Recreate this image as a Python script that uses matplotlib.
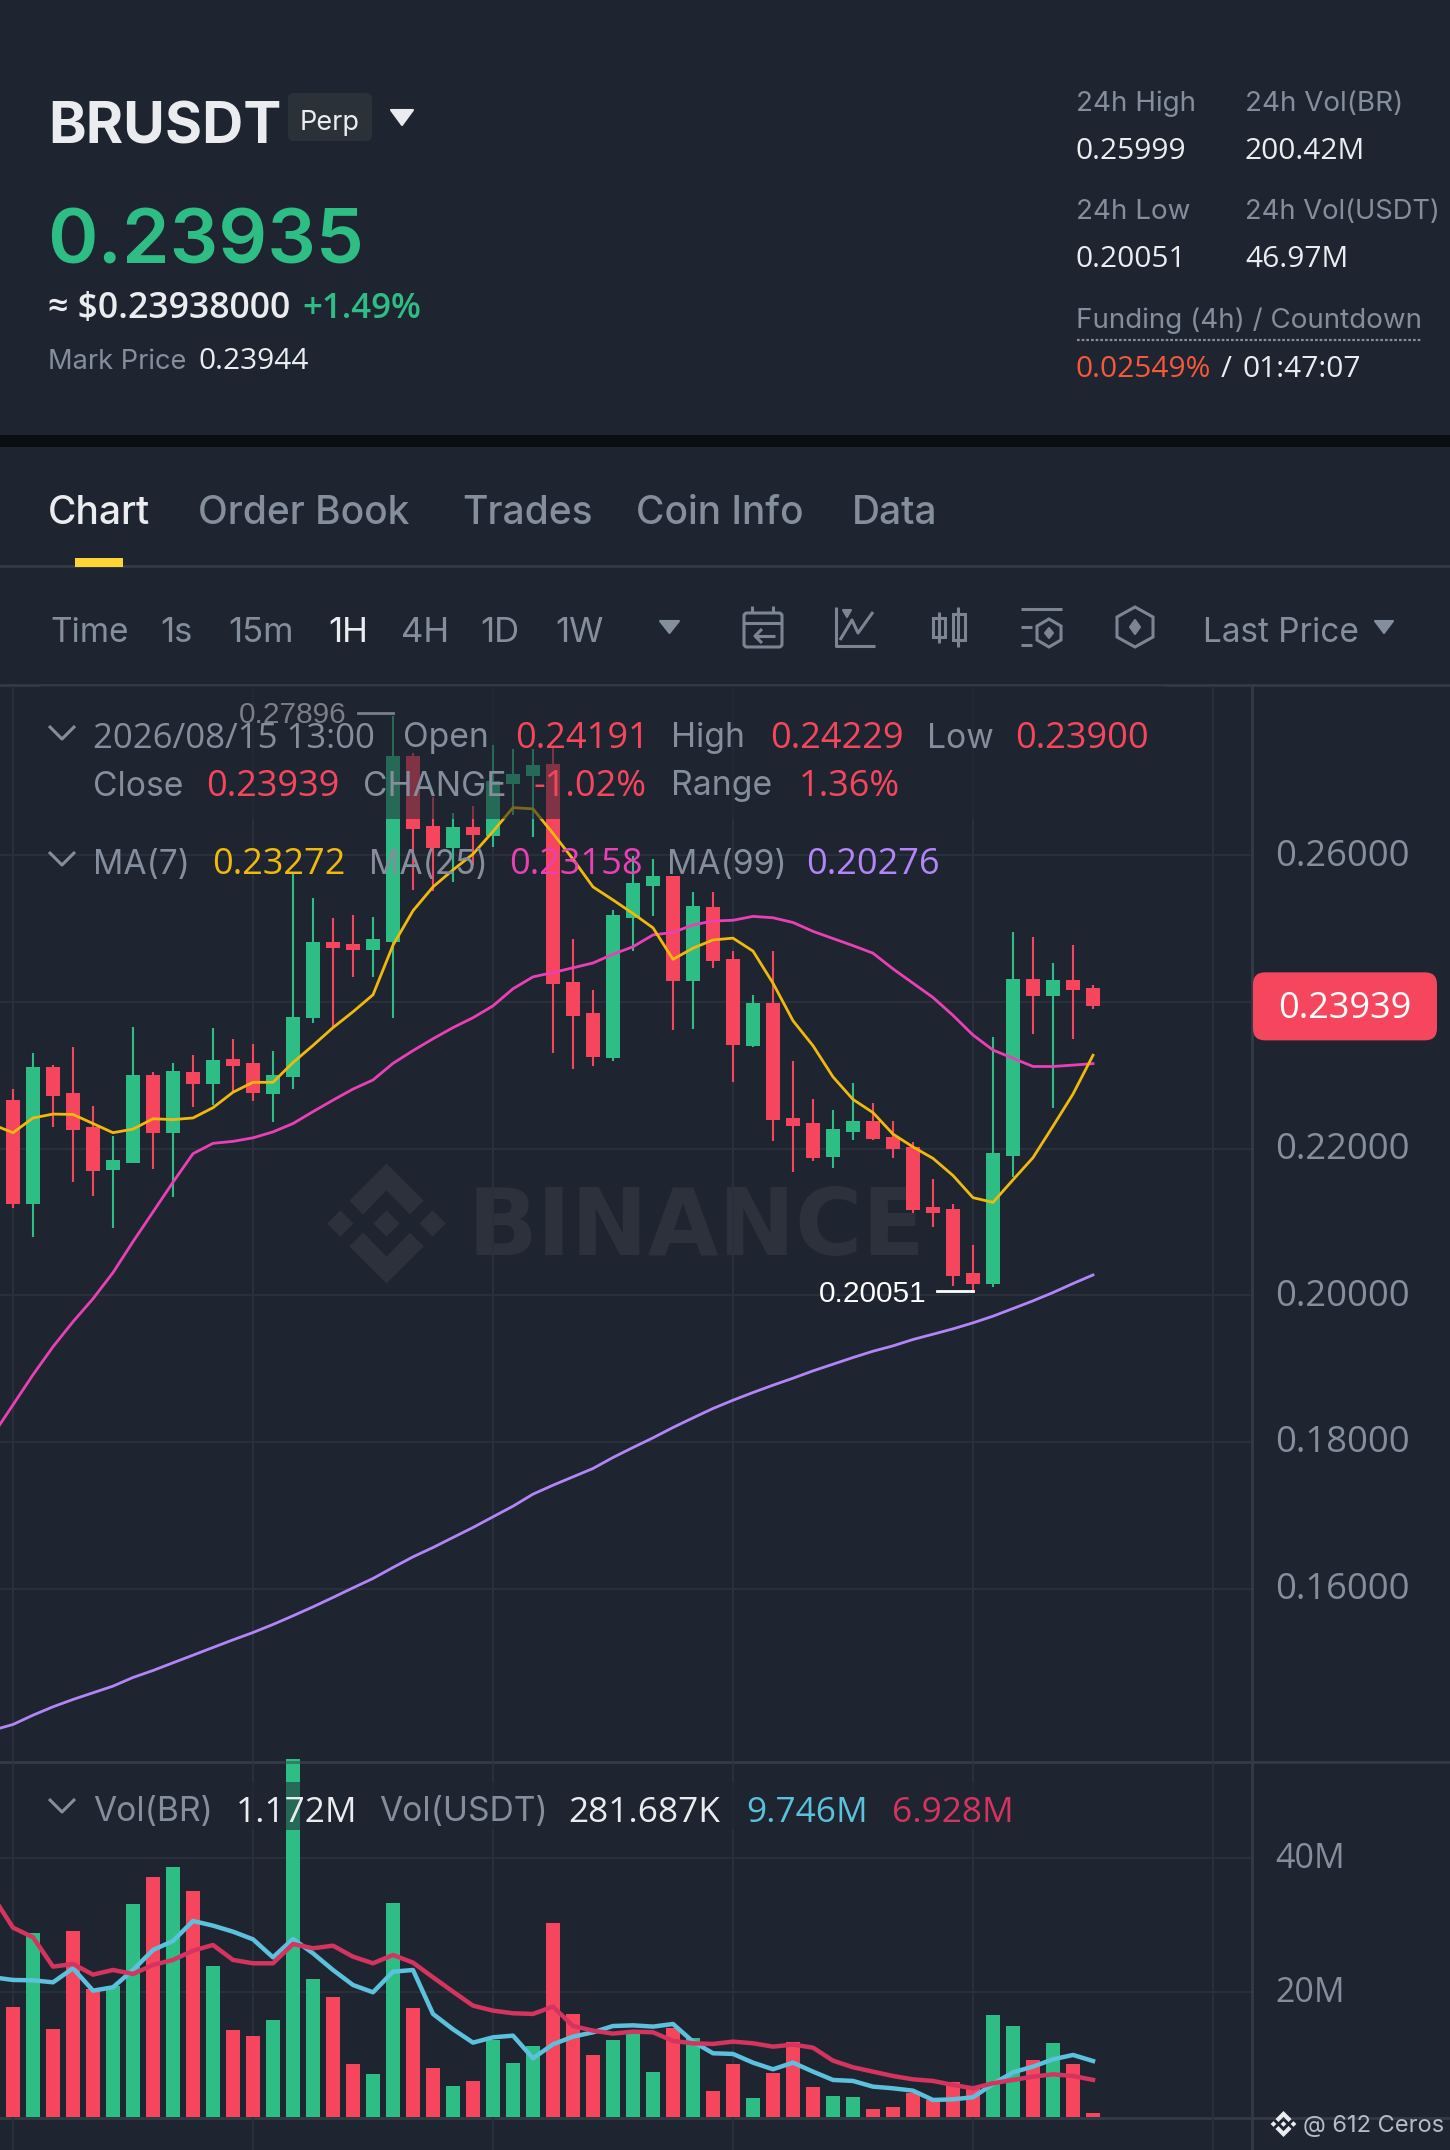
import numpy as np
import matplotlib
matplotlib.use('Agg')
import matplotlib.pyplot as plt
from matplotlib.patches import Polygon, Rectangle, FancyBboxPatch
from matplotlib.transforms import ScaledTranslation

plt.rcParams['font.family'] = ['Inter', 'DejaVu Sans']

W, H = 1450, 2150
BG = '#1E2530'
GREEN = '#2EBD85'
RED = '#F6465D'
GREY = '#848E9C'
WHITE = '#EAECEF'
LINE = '#333B47'
GRID = '#2A303B'
MA7_C = '#F0B90B'
MA25_C = '#EB40B5'
MA99_C = '#B385F8'
VMA5_C = '#5BC1DD'
VMA10_C = '#D4345F'
NUM = ['Open Sans', 'DejaVu Sans']

# candle data
opens = [.22665, .21244, .23108, .22757, .22287, .21703, .21806, .23000, .22211, .23043, .22881,
         .23216, .23168, .22746, .22979, .23784, .24816, .24795, .24703, .24811, .27351,
         .26400, .26092, .26384, .26259, .26973, .27081, .27238, .24270, .23854, .23231,
         .25142, .25581, .25722, .24279, .25298, .24586, .23402, .23991, .22417, .22344,
         .21881, .22222, .22378, .22158, .22022, .21203, .21174, .20306, .20155, .21905,
         .24313, .24084, .24303, .24191]
closes = [.21244, .23108, .22719, .22254, .21687, .21838, .23000, .22206, .23054, .22876, .23211,
          .23130, .22757, .23000, .23800, .24811, .24741, .24708, .24854, .27351, .26351,
          .26092, .26384, .26270, .27011, .27108, .27227, .24238, .23811, .23243, .25180,
          .25625, .25722, .24279, .25303, .24552, .23406, .23991, .22383, .22305, .21876,
          .22266, .22378, .22129, .21988, .21159, .21125, .20267, .20150, .21944, .24313,
          .24084, .24303, .24162, .23939]
highs = [.22811, .23297, .23135, .23389, .22579, .22173, .23660, .23043, .23173, .23270, .23649,
         .23487, .23427, .23335, .25757, .25422, .25146, .25189, .25162, .27896, .27389,
         .26795, .26578, .26676, .27497, .27449, .27449, .27486, .24854, .24162, .25254,
         .25985, .25951, .25722, .25498, .25498, .24693, .24089, .24693, .23197, .22675,
         .22529, .22899, .22622, .22378, .22085, .21583, .21242, .20686, .23523, .24957,
         .24879, .24533, .24781, .24229]
lows = [.21190, .20795, .22298, .21541, .21352, .20919, .21806, .21719, .21336, .22568, .22595,
        .22784, .22649, .22368, .22811, .23714, .23649, .24335, .24335, .23784, .25524,
        .25514, .25638, .25865, .26108, .26551, .26254, .23297, .23081, .23119, .23197,
        .24693, .25166, .23611, .23636, .24459, .22914, .23382, .22100, .21681, .21832,
        .21734, .22110, .22110, .21866, .21125, .20930, .20130, .20051, .20111, .21612,
        .23563, .22548, .23489, .23900]

# moving averages start one candle left of the visible area
ma7 = [.22325, .22216, .22417, .22470, .22465, .22341, .22216, .22265, .22406, .22395, .22417,
       .22557, .22768, .22903, .22903, .23173, .23406, .23649, .23865, .24097, .24773,
       .25243, .25568, .25800, .26016, .26324, .26649, .26632, .26297, .25946, .25568,
       .25390, .25205, .25010, .24581, .24732, .24845, .24869, .24693, .24255, .23743,
       .23402, .22977, .22670, .22490, .22197, .22022, .21866, .21632, .21330, .21266,
       .21573, .21876, .22305, .22743, .23272]
ma25 = [.18096, .18505, .18915, .19297, .19638, .19952, .20308, .20730, .21135, .21541, .21930,
        .22071, .22098, .22146, .22227, .22341, .22503, .22660, .22811, .22935, .23162,
        .23335, .23497, .23649, .23784, .23946, .24179, .24341, .24400, .24465, .24530,
        .24650, .24752, .24913, .24947, .25049, .25103, .25113, .25166, .25147, .25083,
        .24962, .24864, .24767, .24664, .24450, .24255, .24060, .23816, .23548, .23343,
        .23231, .23119, .23119, .23138, .23158]
ma99 = [.14069, .14146, .14273, .14387, .14487, .14578, .14669, .14787, .14882, .14987, .15091,
        .15196, .15300, .15400, .15510, .15628, .15750, .15878, .16009, .16137, .16287,
        .16432, .16559, .16696, .16832, .16978, .17123, .17287, .17409, .17523, .17637,
        .17787, .17923, .18055, .18196, .18327, .18455, .18568, .18673, .18773, .18868,
        .18968, .19059, .19150, .19236, .19309, .19396, .19468, .19541, .19623, .19714,
        .19818, .19923, .20036, .20159, .20276]

# volume in millions
volumes = [17.81, 28.90, 14.53, 29.15, 20.50, 21.00, 33.13, 37.26, 38.71, 35.12, 23.93,
           14.38, 13.48, 15.87, 54.82, 21.99, 19.25, 9.30, 7.81, 33.28, 17.66,
           8.76, 6.02, 6.77, 12.89, 9.40, 12.04, 30.30, 16.72, 10.65, 12.84,
           13.88, 8.06, 14.63, 13.13, 5.32, 9.25, 4.28, 8.01, 12.64, 5.87,
           4.53, 4.38, 2.59, 2.89, 4.93, 3.93, 6.67, 5.67, 16.62, 14.97,
           9.85, 12.39, 9.30, 1.94]
vol_ma5 = [22.24, 21.84, 21.79, 21.49, 23.58, 20.25, 20.75, 23.33, 26.32, 27.66, 30.65,
           29.95, 29.05, 27.91, 25.22, 27.96, 25.82, 23.33, 21.09, 20.00, 23.08,
           23.33, 16.77, 14.48, 12.49, 13.28, 13.53, 10.15, 12.24, 13.38, 14.03,
           14.97, 15.07, 14.88, 15.27, 12.64, 10.90, 10.80, 9.50, 8.51, 9.50,
           8.16, 6.92, 6.77, 5.92, 5.67, 5.32, 3.93, 4.03, 4.33, 6.32,
           8.06, 8.91, 10.00, 10.65, 9.746]
vol_ma10 = [34.28, 29.65, 28.21, 23.83, 24.23, 22.64, 23.33, 22.74, 24.08, 24.83, 26.22,
            27.06, 24.83, 24.33, 24.33, 27.21, 26.57, 26.96, 25.32, 24.33, 25.57,
            24.43, 22.24, 20.10, 18.01, 17.26, 16.87, 16.77, 17.86, 14.97, 14.28,
            13.83, 14.13, 14.03, 12.74, 12.39, 12.29, 12.64, 12.39, 11.89, 12.19,
            11.74, 9.80, 8.81, 8.16, 7.51, 7.01, 6.77, 6.17, 5.67, 6.42,
            6.92, 7.41, 7.76, 7.51, 6.928]

price_ticks = [.16, .18, .20, .22, .24, .26]
# the .24 label is covered by the last price tag
price_labels = ['0.16000', '0.18000', '0.20000', '0.22000', '', '0.26000']
vol_ticks = [20, 40]
grid_candles = [0, 12, 24, 36, 48, 60]

timeframes = ['Time', '1s', '15m', '1H', '4H', '1D', '1W']
timeframe_x = [50, 160, 228, 328, 401, 480, 555]
tabs = ['Chart', 'Order Book', 'Trades', 'Coin Info', 'Data']
tab_x = [48, 198, 462, 636, 852]

fig = plt.figure(figsize=(W / 100, H / 100), dpi=100, facecolor=BG)


def pane(x0, y0, x1, y1, zorder):
    # axes placed by pixel box, y counted from the top of the picture
    return fig.add_axes([x0 / W, 1 - y1 / H, (x1 - x0) / W, (y1 - y0) / H], zorder=zorder)


def pixel_pane(zorder):
    a = pane(0, 0, W, H, zorder)
    a.set_xlim(0, W)
    a.set_ylim(H, 0)
    a.axis('off')
    a.patch.set_alpha(0)
    return a


def lift_labels(a, px):
    # tick labels sit a little above their gridline
    for lab in a.get_yticklabels():
        lab.set_transform(lab.get_transform() + ScaledTranslation(0, px / 100, fig.dpi_scale_trans))


bg = pixel_pane(0)
fg = pixel_pane(6)

# x scale: candle i sits at 13 + 20 i pixels
xlim = (-13 / 20, (1252 - 13) / 20)

grid_ax = pane(0, 686, 1252, H, 1)
grid_ax.set_xlim(xlim)
grid_ax.set_ylim(0, 1)
grid_ax.patch.set_alpha(0)
grid_ax.set_xticks(grid_candles)
grid_ax.set_yticks([])
grid_ax.tick_params(length=0, labelbottom=False)
grid_ax.grid(axis='x', color=GRID, lw=1.5)
for s in grid_ax.spines.values():
    s.set_visible(False)

ax = pane(0, 686, 1252, 1762, 3)
ax.set_xlim(xlim)
ax.set_ylim(.20 - (1762 - 1295.2) / 7333, .20 + (1295.2 - 686) / 7333)
ax.patch.set_alpha(0)
ax.set_xticks([])
ax.yaxis.tick_right()
ax.set_yticks(price_ticks)
ax.set_yticklabels(price_labels, family=NUM)
ax.tick_params(axis='y', length=0, pad=16.5, labelsize=26.2, labelcolor=GREY)
lift_labels(ax, 3)
ax.grid(axis='y', color=GRID, lw=1.5)
ax.set_axisbelow(True)
for s in ax.spines.values():
    s.set_visible(False)

x = np.arange(len(opens))
ma_x = np.arange(-1, len(opens))
o, c = np.array(opens), np.array(closes)
colors = [GREEN if b >= a else RED for a, b in zip(opens, closes)]

ax.vlines(x, lows, highs, colors=colors, lw=1.5, zorder=2)
ax.bar(x, np.abs(c - o), bottom=np.minimum(o, c), width=0.7, color=colors, zorder=2)
ax.plot(ma_x, ma99, color=MA99_C, lw=2, zorder=3)
ax.plot(ma_x, ma25, color=MA25_C, lw=2, zorder=3)
ax.plot(ma_x, ma7, color=MA7_C, lw=2, zorder=3)

# max / min price markers
i_hi, i_lo = int(np.argmax(highs)), int(np.argmin(lows))
ax.plot([i_hi - 1.75, i_hi], [highs[i_hi] + .00045] * 2, color=WHITE, lw=2, zorder=4)
ax.text(i_hi - 2.3, highs[i_hi] + .0002, f'{highs[i_hi]:.5f}', color=WHITE, fontsize=21.5, va='center',
        ha='right', family=['Liberation Sans'], zorder=4)
ax.plot([i_lo - 1.8, i_lo], [lows[i_lo]] * 2, color='white', lw=2, zorder=4)
ax.text(i_lo - 2.3, lows[i_lo] - .0004, f'{lows[i_lo]:.5f}', color='white', fontsize=21.5, va='center',
        ha='right', family=['Liberation Sans'], zorder=4)

vol = pane(0, 1750, 1252, 2117, 3)
vol.set_xlim(xlim)
vol.set_ylim((2126.3 - 2117) / 6.7, (2126.3 - 1750) / 6.7)
vol.patch.set_alpha(0)
vol.set_xticks([])
vol.yaxis.tick_right()
vol.set_yticks(vol_ticks)
vol.set_yticklabels([f'{t}M' for t in vol_ticks], family=NUM)
vol.tick_params(axis='y', length=0, pad=17, labelsize=24.5, labelcolor=GREY)
lift_labels(vol, 3)
vol.grid(axis='y', color=GRID, lw=1.5)
vol.set_axisbelow(True)
for s in vol.spines.values():
    s.set_visible(False)
vol.bar(x, volumes, width=0.7, color=colors, zorder=2)
vol.plot(ma_x, vol_ma5, color=VMA5_C, lw=3.2, zorder=3)
vol.plot(ma_x, vol_ma10, color=VMA10_C, lw=3.2, zorder=3)


def txt(a, px, py, s, size, color=WHITE, weight='normal', ha='left', family=None, z=5):
    return a.text(px, py, s, fontsize=size, color=color, fontweight=weight, ha=ha, va='baseline',
                  family=family or ['Inter', 'DejaVu Sans'], zorder=z)


def tri(a, xs, ys, color):
    a.add_patch(Polygon(list(zip(xs, ys)), closed=True, fc=color, ec=color, lw=1.5, joinstyle='round', zorder=5))


def logo(a, cx, cy, r, color, z=1):
    # diamond logo, built from five pieces
    d = 0.22
    pieces = [
        [(0, -d), (d, 0), (0, d), (-d, 0)],
        [(-.77, -d), (-.77 + d, 0), (-.77, d), (-.77 - d, 0)],
        [(.77, -d), (.77 + d, 0), (.77, d), (.77 - d, 0)],
        [(0, -1), (.62, -.38), (.39, -.15), (0, -.55), (-.39, -.15), (-.62, -.38)],
        [(0, 1), (.62, .38), (.39, .15), (0, .55), (-.39, .15), (-.62, .38)],
    ]
    for p in pieces:
        a.add_patch(Polygon([(cx + u * r, cy + v * r) for u, v in p], closed=True, fc=color, ec='none', zorder=z))


def chevron(a, px, py):
    a.plot([px, px + 13, px + 26], [py, py + 13, py], color=GREY, lw=2.2, solid_capstyle='butt', zorder=5)


def seg(a, xs, ys, lw=2.2, color='#7C8593'):
    a.plot(xs, ys, color=color, lw=lw, solid_capstyle='butt', solid_joinstyle='round', zorder=5)


# header
bg.add_patch(Rectangle((0, 435), W, 12, fc='#0B0E11', ec='none'))
txt(bg, 48, 143.5, 'BRUSDT', 41, WHITE, 'bold')
bg.add_patch(FancyBboxPatch((292, 97), 76, 40, boxstyle='round,pad=4,rounding_size=6', fc='#2B3139', ec='none', zorder=2))
txt(bg, 330, 129.5, 'Perp', 19.5, WHITE, ha='center')
tri(bg, [391, 413, 402], [110, 110, 125], WHITE)
txt(bg, 47, 263, '0.23935', 55, GREEN, 'semibold')
txt(bg, 48, 318, '≈ $0.23938000', 25.7, WHITE, 'semibold', family=NUM)
txt(bg, 302, 318, '+1.49%', 25, GREEN, 'semibold', family=NUM)
txt(bg, 48, 369, 'Mark Price', 19.6, GREY)
txt(bg, 199, 369, '0.23944', 21.5, WHITE, family=NUM)

txt(bg, 1076, 111, '24h High', 20, GREY)
txt(bg, 1245, 111, '24h Vol(BR)', 20, GREY)
txt(bg, 1076, 159, '0.25999', 21.5, WHITE, family=NUM)
txt(bg, 1245, 159, '200.42M', 21.5, WHITE, family=NUM)
txt(bg, 1076, 219, '24h Low', 20, GREY)
txt(bg, 1245, 219, '24h Vol(USDT)', 19.7, GREY)
txt(bg, 1076, 267, '0.20051', 21.5, WHITE, family=NUM)
txt(bg, 1245, 267, '46.97M', 21.5, WHITE, family=NUM)
txt(bg, 1076, 327.5, 'Funding (4h) / Countdown', 20, GREY)
bg.plot([1077, 1421], [340, 340], color=GREY, lw=1.6, ls=(0, (1.2, 0.9)))
txt(bg, 1076, 377, '0.02549%', 21.5, '#F6583A', family=NUM)
txt(bg, 1221, 377, '/', 21.5, WHITE, family=NUM)
txt(bg, 1243, 377, '01:47:07', 21.5, WHITE, family=NUM)

# tabs
for name, px in zip(tabs, tab_x):
    txt(bg, px, 524.5, name, 28, WHITE if name == 'Chart' else GREY, 'medium')
bg.plot([0, W], [565.5, 565.5], color=LINE, lw=2)
bg.add_patch(Rectangle((75, 558), 48, 9, fc='#FCD535', ec='none', zorder=3))

# timeframe row
for name, px in zip(timeframes, timeframe_x):
    txt(bg, px, 642, name, 24 if name == 'Time' else 25, WHITE if name == '1H' else GREY)
tri(bg, [660, 679, 669.5], [621, 621, 633], GREY)
txt(bg, 1203, 642, 'Last Price', 24, GREY)
tri(bg, [1375, 1393, 1384], [621, 621, 633], GREY)
bg.plot([0, W], [685, 685], color=LINE, lw=2)

# toolbar icons
bg.add_patch(FancyBboxPatch((744, 613), 38, 34, boxstyle='round,pad=0,rounding_size=3', fc='none', ec='#7C8593', lw=2.2))
seg(bg, [744, 782], [623, 623])
seg(bg, [752, 752], [606, 613])
seg(bg, [773, 773], [606, 613])
seg(bg, [775, 756], [636, 636])
seg(bg, [762, 755, 762], [629, 636, 643])
seg(bg, [836, 836, 875], [607, 646, 646])
seg(bg, [840, 852, 858, 873], [640, 620, 633, 612])
tri(bg, [843, 851, 847], [610, 610, 617], '#7C8593')
seg(bg, [939, 939], [612, 643])
seg(bg, [958, 958], [607, 647])
bg.add_patch(Rectangle((933, 618), 12, 19, fc='none', ec='#7C8593', lw=2.2))
bg.add_patch(Rectangle((953, 614), 12, 26, fc='none', ec='#7C8593', lw=2.2))
seg(bg, [1021, 1062], [609, 609])
seg(bg, [1021, 1032], [627, 627])
seg(bg, [1021, 1032], [645, 645])
bg.add_patch(Polygon([(1049, 619), (1061, 626), (1061, 640), (1049, 647), (1037, 640), (1037, 626)],
                     closed=True, fc='none', ec='#7C8593', lw=2.2))
tri(bg, [1049, 1053, 1049, 1045], [628, 633, 638, 633], '#7C8593')
bg.add_patch(Polygon([(1135, 607), (1153, 617), (1153, 637), (1135, 647), (1117, 637), (1117, 617)],
                     closed=True, fc='none', ec='#7C8593', lw=2.2))
tri(bg, [1135, 1140, 1135, 1130], [620, 627, 634, 627], '#7C8593')

# watermark behind the candles
logo(bg, 386.5, 1223.5, 60, '#2C313C')
txt(bg, 468, 1255, 'BINANCE', 66, '#2C313C', 'bold', family=['DejaVu Sans'], z=1)

# pane borders
bg.plot([0, 1252], [1762, 1762], color=LINE, lw=2, zorder=2)
fg.plot([0, 1252], [1762, 1762], color=LINE, lw=2, alpha=0.5, zorder=1)
bg.plot([0, 1252], [2118, 2118], color=LINE, lw=2, zorder=2)
fg.plot([1252, 1252], [686, H], color=LINE, lw=2, zorder=2)
fg.plot([1252, W], [1762, 1762], color=LINE, lw=2, zorder=2)
fg.plot([1252, W], [2118, 2118], color=LINE, lw=2, zorder=1)

# dimmed strips behind the legends
fg.add_patch(Rectangle((40, 686), 1125, 133, fc=BG, ec='none', alpha=0.55, zorder=2))
fg.add_patch(Rectangle((40, 1782), 1000, 48, fc=BG, ec='none', alpha=0.55, zorder=2))

# legend rows
chevron(fg, 49, 726)
row1 = [(93, '2026/08/15 13:00', GREY), (403, 'Open', GREY), (515, '0.24191', RED), (671, 'High', GREY),
        (770, '0.24229', RED), (927, 'Low', GREY), (1015, '0.23900', RED)]
row2 = [(93, 'Close', GREY), (206, '0.23939', RED), (363, 'CHANGE', GREY), (534, '-1.02%', RED),
        (671, 'Range', GREY), (799, '1.36%', RED)]
row3 = [(93, 'MA(7)', GREY), (212, '0.23272', MA7_C), (369, 'MA(25)', GREY), (509, '0.23158', MA25_C),
        (667, 'MA(99)', GREY), (806, '0.20276', MA99_C)]
row4 = [(93, 'Vol(BR)', GREY), (236, '1.172M', WHITE), (379, 'Vol(USDT)', GREY), (568, '281.687K', WHITE),
        (746, '9.746M', VMA5_C), (892, '6.928M', VMA10_C)]
for base, row, num_size in [(747.5, row1, 26), (795.5, row2, 26), (874, row3, 26), (1821.5, row4, 25.4)]:
    for px, s, col in row:
        # values and the date use the font with even digits
        if s.startswith('2026'):
            txt(fg, px, base, s, 25, col, family=NUM)
        elif s[0].isdigit() or s[0] == '-':
            txt(fg, px, base, s, num_size, col, family=NUM)
        else:
            txt(fg, px, base, s, 24.2, col)
chevron(fg, 49, 852)
chevron(fg, 49, 1799)

# last price tag, centred on the last close
tag_y = 1295.2 - (closes[-1] - .20) * 7333
fg.add_patch(FancyBboxPatch((1261, tag_y - 26), 168, 52, boxstyle='round,pad=8,rounding_size=12', fc=RED, ec='none', zorder=3))
txt(fg, 1344.5, tag_y + 12, f'{closes[-1]:.5f}', 26, 'white', ha='center', family=NUM)

# footer
logo(fg, 1283.5, 2124, 13, WHITE, z=5)
txt(fg, 1303, 2132, '@ 612 Ceros', 17, '#B7BDC6')

fig.savefig('out.png', dpi=100, facecolor=BG)
